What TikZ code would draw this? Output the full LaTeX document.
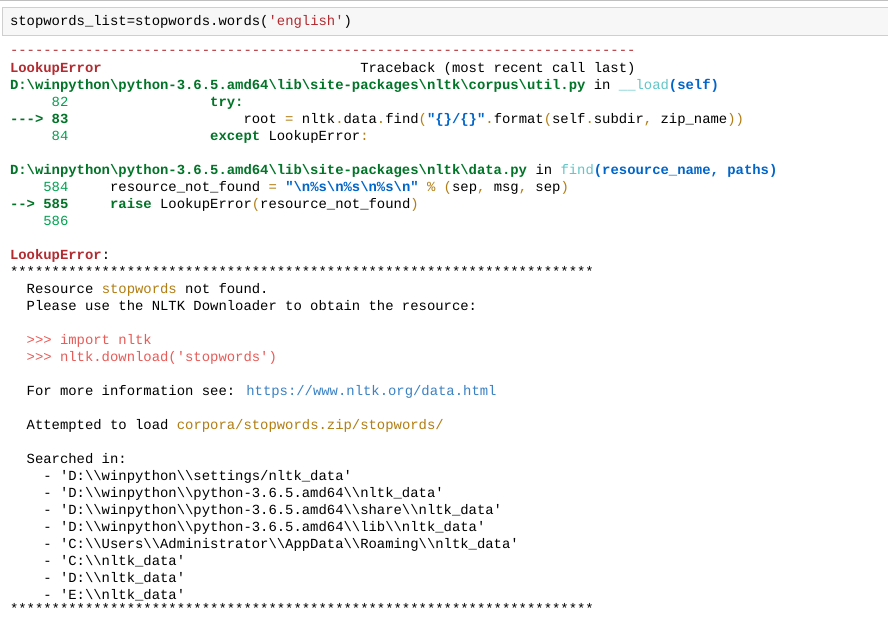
\documentclass[tikz,border=0pt]{standalone}
\usepackage{fontspec}
\newfontfamily\mono{Liberation Mono}
\definecolor{cerr}{HTML}{B22B31}
\definecolor{cgb}{HTML}{007427}
\definecolor{cgl}{HTML}{00A250}
\definecolor{ccy}{HTML}{60C6C8}
\definecolor{cbl}{HTML}{0065CA}
\definecolor{cye}{HTML}{B27D12}
\definecolor{clr}{HTML}{E75C58}
\definecolor{clk}{HTML}{3B82C4}
\newcommand\cY[1]{\textcolor{cye}{#1}}
\newcommand\cGB[1]{\textcolor{cgb}{\bfseries #1}}
\newcommand\cBB[1]{\textcolor{cbl}{\bfseries #1}}
\newcommand\cE[1]{\textcolor{cerr}{#1}}
\newcommand\cEB[1]{\textcolor{cerr}{\bfseries #1}}
\newcommand\bs{\textbackslash}
\begin{document}
\begin{tikzpicture}[x=1pt,y=-1pt,
  ln/.style={anchor=base west,inner sep=0pt,outer sep=0pt,font=\mono\fontsize{13.9}{17}\selectfont}]
\useasboundingbox (0,0) rectangle (888,618);
\fill[white] (0,0) rectangle (888,618);
\draw[color=black!25,line width=1.5pt] (0,0.75) -- (888,0.75);
\draw[fill=black!3,draw=black!19] (2.5,7.5) rectangle (895,35.5);
\node[ln] (in) at (10,26) {stopwords\_list=stopwords.words(\textcolor{cerr}{'english'})};
\newcommand\C[1]{\fpeval{10+8.34*#1}}
\newcommand\R[1]{\fpeval{72+17*#1}}
\node[ln] (dash) at (\C0,\R{-1}) {\cE{---------------------------------------------------------------------------}};
\node[ln] (e1) at (\C0,\R0) {\cEB{LookupError}};
\node[ln] (tb) at (\C{42},\R0) {Traceback (most recent call last)};
\node[ln] (f1) at (\C0,\R1) {\cGB{D:\bs winpython\bs python-3.6.5.amd64\bs lib\bs site-packages\bs nltk\bs corpus\bs util.py} in \textcolor{ccy}{\_\_load}\cBB{(self)}};
\node[ln] (n82) at (\C5,\R2) {\textcolor{cgl}{82}};
\node[ln] (c82) at (\C{24},\R2) {\cGB{try:}};
\node[ln] (n83) at (\C0,\R3) {\cGB{---> 83}};
\node[ln] (c83) at (\C{28},\R3) {root \cY{=} nltk\cY{.}data\cY{.}find\cY{(}\cBB{"\{\}/\{\}"}\cY{.}format\cY{(}self\cY{.}subdir\cY{,} zip\_name\cY{))}};
\node[ln] (n84) at (\C5,\R4) {\textcolor{cgl}{84}};
\node[ln] (c84) at (\C{24},\R4) {\cGB{except} LookupError\cY{:}};
\node[ln] (f2) at (\C0,\R6) {\cGB{D:\bs winpython\bs python-3.6.5.amd64\bs lib\bs site-packages\bs nltk\bs data.py} in \textcolor{ccy}{find}\cBB{(resource\_name, paths)}};
\node[ln] (n584) at (\C4,\R7) {\textcolor{cgl}{584}};
\node[ln] (c584) at (\C{12},\R7) {resource\_not\_found \cY{=} \cBB{"\bs n\%s\bs n\%s\bs n\%s\bs n"} \cY{\%} \cY{(}sep\cY{,} msg\cY{,} sep\cY{)}};
\node[ln] (n585) at (\C0,\R8) {\cGB{--> 585}};
\node[ln] (c585) at (\C{12},\R8) {\cGB{raise} LookupError\cY{(}resource\_not\_found\cY{)}};
\node[ln] (n586) at (\C4,\R9) {\textcolor{cgl}{586}};
\node[ln] (e2) at (\C0,\R{11}) {\cEB{LookupError}:};
\node[ln] (s1) at (\C0,\R{12}) {**********************************************************************};
\node[ln] (m1) at (\C2,\R{13}) {Resource \cY{stopwords} not found.};
\node[ln] (m2) at (\C2,\R{14}) {Please use the NLTK Downloader to obtain the resource:};
\node[ln] (m3) at (\C2,\R{16}) {\textcolor{clr}{>>> import nltk}};
\node[ln] (m4) at (\C2,\R{17}) {\textcolor{clr}{>>> nltk.download('stopwords')}};
\node[ln] (m5) at (\C2,\R{19}) {For more information see: \textcolor{clk}{https://www.nltk.org/data.html}};
\node[ln] (m6) at (\C2,\R{21}) {Attempted to load \cY{corpora/stopwords.zip/stopwords/}};
\node[ln] (m7) at (\C2,\R{23}) {Searched in:};
\node[ln] (p1) at (\C4,\R{24}) {- 'D:\bs\bs winpython\bs\bs settings/nltk\_data'};
\node[ln] (p2) at (\C4,\R{25}) {- 'D:\bs\bs winpython\bs\bs python-3.6.5.amd64\bs\bs nltk\_data'};
\node[ln] (p3) at (\C4,\R{26}) {- 'D:\bs\bs winpython\bs\bs python-3.6.5.amd64\bs\bs share\bs\bs nltk\_data'};
\node[ln] (p4) at (\C4,\R{27}) {- 'D:\bs\bs winpython\bs\bs python-3.6.5.amd64\bs\bs lib\bs\bs nltk\_data'};
\node[ln] (p5) at (\C4,\R{28}) {- 'C:\bs\bs Users\bs\bs Administrator\bs\bs AppData\bs\bs Roaming\bs\bs nltk\_data'};
\node[ln] (p6) at (\C4,\R{29}) {- 'C:\bs\bs nltk\_data'};
\node[ln] (p7) at (\C4,\R{30}) {- 'D:\bs\bs nltk\_data'};
\node[ln] (p8) at (\C4,\R{31}) {- 'E:\bs\bs nltk\_data'};
\node[ln] (s2) at (\C0,\R{32}-3) {**********************************************************************};
\end{tikzpicture}
\end{document}
